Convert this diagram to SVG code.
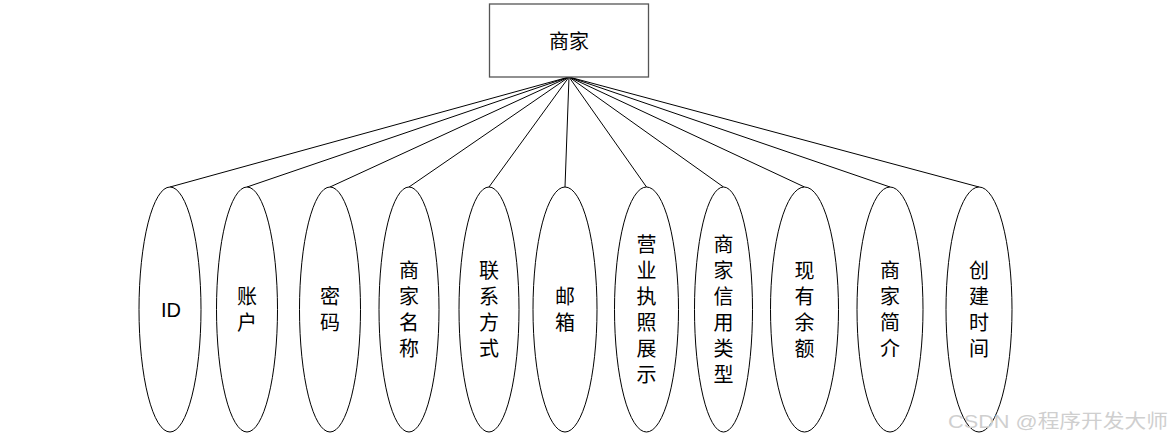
<svg xmlns="http://www.w3.org/2000/svg" width="1172" height="442" viewBox="0 0 1172 442">
<style>
.bg{fill:#fff}
.ent{fill:#fff;stroke:#555;stroke-width:1.3}
.att{fill:#fff;stroke:#000;stroke-width:1}
.con line{stroke:#000;stroke-width:1}
.t{font-family:"Noto Sans CJK SC","Liberation Sans",sans-serif;font-size:20px;fill:#000;text-anchor:middle}
.v{writing-mode:vertical-rl;text-orientation:upright;letter-spacing:6px}
.id{font-family:"Liberation Sans","Noto Sans CJK SC",sans-serif;font-size:20px;fill:#000;text-anchor:middle}
.wm{font-family:"Liberation Sans","Noto Sans CJK SC",sans-serif;font-size:19px;fill:#cfcfcf}
</style>
<rect class="bg" x="0" y="0" width="1172" height="442"/>
<g id="connectors" class="con">
<line x1="569" y1="77" x2="170" y2="187"/>
<line x1="569" y1="77" x2="247" y2="187"/>
<line x1="569" y1="77" x2="330" y2="187"/>
<line x1="569" y1="77" x2="409" y2="187"/>
<line x1="569" y1="77" x2="489" y2="187"/>
<line x1="569" y1="77" x2="565" y2="187"/>
<line x1="569" y1="77" x2="646.5" y2="187"/>
<line x1="569" y1="77" x2="723.5" y2="187"/>
<line x1="569" y1="77" x2="804.5" y2="187"/>
<line x1="569" y1="77" x2="890" y2="187"/>
<line x1="569" y1="77" x2="979" y2="187"/>
</g>
<g id="merchant">
<rect class="ent" x="489.5" y="4" width="159" height="73"/>
<text class="t" x="569" y="48.5">商家</text>
</g>
<g id="attr-id">
<ellipse class="att" cx="170" cy="309.5" rx="31" ry="122.5"/>
<text class="id" x="171" y="317">ID</text>
</g>
<g id="attr-account">
<ellipse class="att" cx="247" cy="309.5" rx="30.5" ry="122.5"/>
<text class="t v" x="247" y="312.5">账户</text>
</g>
<g id="attr-password">
<ellipse class="att" cx="330" cy="309.5" rx="30.5" ry="122.5"/>
<text class="t v" x="330" y="312.5">密码</text>
</g>
<g id="attr-name">
<ellipse class="att" cx="409" cy="309.5" rx="30" ry="122.5"/>
<text class="t v" x="409" y="312.5">商家名称</text>
</g>
<g id="attr-contact">
<ellipse class="att" cx="489" cy="309.5" rx="30" ry="122.5"/>
<text class="t v" x="489" y="312.5">联系方式</text>
</g>
<g id="attr-email">
<ellipse class="att" cx="565" cy="309.5" rx="32" ry="122.5"/>
<text class="t v" x="565" y="312.5">邮箱</text>
</g>
<g id="attr-license">
<ellipse class="att" cx="646.5" cy="309.5" rx="32" ry="122.5"/>
<text class="t v" x="646.5" y="312.5">营业执照展示</text>
</g>
<g id="attr-credit">
<ellipse class="att" cx="723.5" cy="309.5" rx="29" ry="122.5"/>
<text class="t v" x="723.5" y="312.5">商家信用类型</text>
</g>
<g id="attr-balance">
<ellipse class="att" cx="804.5" cy="309.5" rx="34" ry="122.5"/>
<text class="t v" x="804.5" y="312.5">现有余额</text>
</g>
<g id="attr-intro">
<ellipse class="att" cx="890" cy="309.5" rx="33" ry="122.5"/>
<text class="t v" x="890" y="312.5">商家简介</text>
</g>
<g id="attr-created">
<ellipse class="att" cx="979" cy="309.5" rx="33" ry="122.5"/>
<text class="t v" x="979" y="312.5">创建时间</text>
</g>
<text class="wm" x="948" y="428" textLength="220" lengthAdjust="spacingAndGlyphs">CSDN @程序开发大师</text>
</svg>
